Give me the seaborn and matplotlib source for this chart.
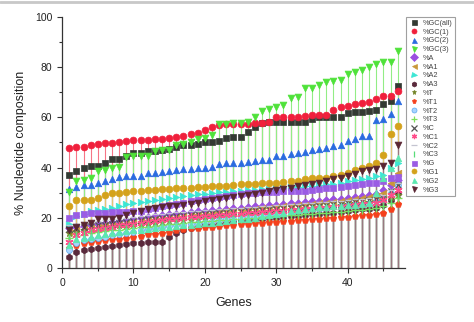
import matplotlib
matplotlib.use("Agg")
import matplotlib.pyplot as plt
from matplotlib.lines import Line2D
from matplotlib.colors import to_rgb
import seaborn as sns
import numpy as np
import pandas as pd

genes = list(range(1, 48))

gc_all = [37.1, 38.6, 40.0, 40.6, 40.8, 42.0, 43.3, 43.4, 44.6, 45.7, 45.9, 46.7, 46.8, 47.0, 47.3, 48.3,
          48.8, 49.0, 49.4, 50.0, 50.3, 50.7, 51.9, 52.3, 52.3, 54.2, 56.0, 57.6, 58.0, 58.0, 58.0, 58.0,
          58.0, 58.0, 59.5, 60.0, 60.0, 60.0, 60.0, 61.9, 62.3, 62.3, 62.7, 63.1, 65.2, 66.4, 72.5]
gc1 = [47.9, 48.1, 48.3, 49.0, 49.3, 49.7, 49.8, 50.3, 50.7, 51.0, 51.0, 51.1, 51.3, 51.4, 51.9, 52.3,
       52.4, 53.4, 53.6, 55.0, 56.0, 56.8, 57.2, 57.2, 57.3, 57.4, 57.6, 57.9, 58.2, 60.0, 60.0, 60.3,
       60.3, 60.6, 60.8, 61.1, 61.1, 62.9, 64.3, 64.5, 65.3, 65.9, 66.3, 67.5, 68.4, 68.4, 70.4]
gc2 = [31.3, 32.1, 33.1, 33.2, 33.7, 34.6, 35.5, 36.4, 36.5, 36.7, 36.8, 37.7, 38.0, 38.4, 38.5, 39.0,
       39.3, 39.4, 39.7, 39.8, 40.3, 41.4, 41.7, 41.8, 41.9, 42.3, 42.7, 43.0, 43.1, 44.6, 44.7, 45.4,
       45.9, 46.3, 47.0, 47.4, 48.0, 48.7, 49.0, 50.7, 51.5, 52.6, 52.7, 59.0, 59.5, 61.4, 66.5]
gc3 = [30.4, 34.6, 35.1, 36.0, 38.8, 39.0, 39.7, 40.3, 44.3, 44.6, 44.6, 44.7, 46.7, 47.0, 47.1, 49.0,
       49.3, 50.3, 51.3, 51.7, 53.0, 57.4, 57.5, 57.9, 57.9, 58.0, 60.0, 62.7, 63.5, 64.0, 65.0, 67.9,
       68.3, 71.6, 71.7, 72.8, 74.0, 74.5, 74.8, 77.2, 78.0, 78.8, 80.1, 81.4, 82.1, 82.2, 86.6]
a_all = [16.0, 16.5, 16.8, 17.0, 17.5, 18.0, 18.3, 18.7, 19.0, 19.5, 20.0, 20.3, 20.8, 21.0, 21.3, 21.6,
         22.0, 22.3, 22.5, 22.8, 23.0, 23.2, 23.5, 23.8, 24.0, 24.2, 24.5, 24.7, 25.0, 25.2, 25.5, 25.7,
         26.0, 26.2, 26.5, 26.8, 27.0, 27.3, 27.6, 28.0, 28.3, 28.6, 29.0, 29.5, 31.0, 33.0, 35.0]
a1 = [14.5, 15.0, 15.5, 16.0, 16.5, 17.0, 17.3, 17.6, 18.0, 18.3, 18.6, 19.0, 19.3, 19.6, 20.0, 20.3,
      20.6, 21.0, 21.3, 21.6, 22.0, 22.2, 22.5, 22.7, 23.0, 23.2, 23.5, 23.7, 24.0, 24.2, 24.5, 24.7,
      25.0, 25.2, 25.5, 25.8, 26.0, 26.3, 26.6, 27.0, 27.4, 27.8, 28.2, 28.8, 30.0, 34.0, 38.0]
a2 = [17.5, 20.5, 21.5, 22.5, 23.0, 23.5, 24.0, 24.5, 25.5, 26.0, 26.3, 26.5, 27.0, 27.5, 28.0, 28.3,
      28.5, 29.0, 29.3, 29.6, 30.0, 30.2, 30.4, 30.6, 30.8, 31.0, 31.2, 31.4, 31.6, 31.8, 32.0, 32.2,
      32.4, 32.6, 32.8, 33.0, 33.3, 33.6, 34.0, 34.5, 35.0, 35.5, 36.0, 36.5, 37.0, 40.0, 42.0]
a3 = [4.5, 6.5, 7.0, 7.5, 7.8, 8.3, 8.8, 9.3, 9.6, 10.0, 10.0, 10.2, 10.5, 10.5, 12.2, 13.8,
      15.0, 16.0, 16.5, 17.0, 17.3, 17.6, 18.0, 18.3, 18.6, 19.0, 19.2, 19.5, 19.8, 20.0, 20.3, 20.5,
      20.8, 21.0, 21.3, 21.5, 21.8, 22.0, 22.3, 22.6, 23.0, 23.3, 23.6, 24.0, 25.0, 27.0, 30.0]
t_all = [14.0, 14.5, 15.0, 15.5, 16.0, 16.3, 16.6, 17.0, 17.2, 17.5, 17.7, 18.0, 18.2, 18.4, 18.6, 18.8,
         19.0, 19.2, 19.4, 19.6, 19.8, 19.9, 20.0, 20.3, 20.6, 21.0, 21.3, 21.6, 22.0, 22.3, 22.6, 22.9,
         23.2, 23.5, 23.8, 24.0, 24.3, 24.6, 25.0, 25.3, 25.7, 26.0, 26.4, 26.8, 28.0, 28.3, 29.0]
t1 = [8.0, 9.0, 10.0, 10.5, 10.7, 11.0, 11.4, 11.7, 12.0, 12.2, 12.8, 13.5, 13.7, 14.0, 14.5, 15.0,
      15.5, 15.8, 16.0, 16.2, 16.5, 16.7, 17.0, 17.2, 17.4, 17.6, 17.8, 18.0, 18.2, 18.4, 18.6, 18.8,
      19.0, 19.2, 19.4, 19.6, 19.8, 20.0, 20.2, 20.4, 20.6, 20.9, 21.2, 21.5, 22.0, 23.5, 25.5]
t2 = [7.0, 10.0, 11.0, 11.5, 12.0, 12.5, 13.0, 13.5, 14.0, 14.5, 15.0, 15.5, 16.0, 16.3, 16.6, 17.0,
      17.3, 17.6, 18.0, 18.3, 18.6, 19.0, 19.3, 19.6, 20.0, 20.3, 20.6, 21.0, 21.3, 21.6, 22.0, 22.3,
      22.6, 23.0, 23.3, 23.6, 24.0, 24.3, 24.6, 25.0, 25.3, 25.6, 26.0, 26.5, 27.5, 30.0, 33.0]
t3 = [12.0, 12.8, 13.3, 13.8, 14.2, 14.6, 15.0, 15.3, 15.6, 15.9, 16.2, 16.5, 16.8, 17.1, 17.4, 17.7,
      18.0, 18.2, 18.4, 18.6, 18.8, 19.0, 19.2, 19.4, 19.6, 19.8, 20.0, 20.2, 20.4, 20.6, 20.8, 21.0,
      21.2, 21.4, 21.6, 21.8, 22.0, 22.2, 22.4, 22.6, 22.9, 23.2, 23.5, 23.8, 24.5, 26.0, 28.0]
c_all = [15.5, 16.0, 16.3, 16.6, 17.0, 17.3, 17.6, 18.0, 18.3, 18.6, 19.0, 19.3, 19.6, 20.0, 20.3, 20.6,
         21.0, 21.2, 21.4, 21.6, 21.8, 22.0, 22.2, 22.4, 22.6, 22.8, 23.0, 23.2, 23.4, 23.6, 23.8, 24.0,
         24.2, 24.4, 24.6, 24.8, 25.0, 25.3, 25.6, 26.0, 26.3, 26.6, 27.0, 27.4, 28.0, 30.5, 33.0]
c1 = [10.5, 13.0, 14.0, 15.0, 15.5, 16.0, 16.5, 17.0, 17.3, 17.6, 18.0, 18.3, 18.6, 19.0, 19.3, 19.6,
      20.0, 20.2, 20.4, 20.6, 20.8, 21.0, 21.2, 21.4, 21.6, 21.8, 22.0, 22.2, 22.4, 22.6, 22.8, 23.0,
      23.2, 23.4, 23.6, 23.8, 24.0, 24.2, 24.4, 24.7, 25.0, 25.3, 25.6, 26.0, 27.0, 29.0, 31.0]
c2 = [17.0, 17.5, 18.0, 18.3, 18.6, 19.0, 19.3, 19.6, 20.0, 20.3, 20.6, 21.0, 21.3, 21.6, 22.0, 22.2,
      22.4, 22.6, 22.8, 23.0, 23.2, 23.4, 23.6, 23.8, 24.0, 24.2, 24.4, 24.6, 24.8, 25.0, 25.2, 25.4,
      25.6, 25.8, 26.0, 26.2, 26.4, 26.6, 26.8, 27.0, 27.3, 27.6, 28.0, 28.5, 29.0, 31.0, 34.0]
c3 = [12.5, 13.5, 14.0, 14.4, 14.8, 15.2, 15.5, 15.8, 16.1, 16.4, 16.7, 17.0, 17.3, 17.6, 17.9, 18.2,
      18.4, 18.6, 18.8, 19.0, 19.2, 19.4, 19.6, 19.8, 20.0, 20.2, 20.4, 20.6, 20.8, 21.0, 21.2, 21.4,
      21.6, 21.8, 22.0, 22.2, 22.4, 22.6, 22.8, 23.0, 23.3, 23.6, 24.0, 24.4, 25.0, 26.5, 28.5]
g_all = [19.8, 21.0, 21.5, 21.8, 22.0, 22.0, 22.2, 22.3, 22.4, 22.5, 22.8, 23.5, 24.0, 24.5, 25.0, 25.5,
         25.8, 26.5, 27.1, 27.4, 27.8, 28.2, 28.6, 29.0, 29.4, 29.8, 30.0, 30.2, 30.4, 30.4, 30.5, 30.5,
         30.6, 30.8, 31.0, 31.3, 31.7, 31.8, 32.3, 32.8, 33.0, 33.4, 33.7, 33.8, 34.5, 35.8, 36.2]
g1 = [24.7, 27.1, 27.1, 27.2, 28.0, 29.1, 29.7, 30.0, 30.4, 30.5, 30.5, 31.1, 31.1, 31.3, 31.4, 31.7,
      31.8, 32.0, 32.1, 32.4, 32.7, 32.7, 32.8, 32.9, 33.3, 33.5, 33.5, 33.7, 34.0, 34.0, 34.1, 34.8,
      34.8, 35.3, 35.7, 35.7, 35.9, 36.6, 37.1, 38.0, 39.1, 39.7, 40.6, 41.9, 45.0, 53.4, 56.7]
g2 = [9.0, 11.5, 12.0, 12.5, 13.0, 13.5, 14.0, 14.3, 14.6, 15.0, 15.3, 15.6, 15.9, 16.2, 16.5, 16.8,
      17.0, 17.3, 17.6, 17.8, 18.0, 18.3, 18.6, 19.0, 19.3, 19.6, 20.0, 20.5, 21.0, 21.5, 22.0, 22.5,
      23.0, 23.5, 24.0, 24.2, 24.4, 24.6, 24.8, 25.0, 25.2, 25.5, 26.0, 30.0, 36.0, 40.0, 44.0]
g3 = [15.0, 16.5, 17.0, 18.0, 19.5, 19.5, 19.6, 20.0, 21.0, 22.0, 22.5, 23.5, 24.0, 24.3, 24.5, 24.8,
      25.0, 25.5, 26.0, 26.5, 27.0, 27.5, 27.9, 28.3, 28.7, 29.0, 29.5, 30.0, 30.5, 31.0, 31.5, 32.0,
      32.5, 33.0, 33.5, 33.8, 34.5, 35.5, 36.0, 36.8, 37.5, 38.5, 39.0, 39.5, 40.6, 42.0, 49.0]

labels = ["%GC(all)", "%GC(1)", "%GC(2)", "%GC(3)", "%A", "%A1", "%A2", "%A3", "%T", "%T1",
          "%T2", "%T3", "%C", "%C1", "%C2", "%C3", "%G", "%G1", "%G2", "%G3"]
series = [gc_all, gc1, gc2, gc3, a_all, a1, a2, a3, t_all, t1, t2, t3, c_all, c1, c2, c3, g_all, g1, g2, g3]

colors = ["#333a33", "#f0203c", "#2b6be0", "#4fe23a", "#9b4fe0", "#c9983a", "#3ce6d4", "#5a2a3c",
          "#74862a", "#f5401c", "#5aa8ee", "#7ee05a", "#555555", "#ff4d8a", "#c4c4d0", "#58dc78",
          "#9a5ce4", "#d4a21c", "#5ce8b0", "#5a2633"]
markers = ["s", "o", "^", "v", "D", "<", ">", "h", "*", "p",
           "o", "+", "x", (6, 2, 0), "_", "|", "s", "o", "^", "v"]
sizes = [18, 24, 22, 24, 15, 22, 22, 22, 30, 24, 18, 26, 20, 26, 24, 24, 18, 24, 22, 24]

for s in series:
    assert len(s) == 47, len(s)


def tint(c, f):
    r, g, b = to_rgb(c)
    return (r + (1 - r) * f, g + (1 - g) * f, b + (1 - b) * f)


sns.set_style("ticks")
plt.rcParams["font.family"] = ["Liberation Sans", "DejaVu Sans"]

fig = plt.figure(figsize=(4.74, 3.22), dpi=100)
ax = fig.add_axes([0.131, 0.168, 0.723, 0.779])

# drop lines (opaque, lightened; later series cover earlier ones)
for vals, col in zip(series, colors):
    ax.vlines(genes, 0, vals, colors=[tint(col, 0.38)], linewidth=0.8, zorder=1)

handles = []
for vals, lab, col, mk, sz in zip(series, labels, colors, markers, sizes):
    df = pd.DataFrame({"Genes": genes, "val": vals})
    filled = mk not in ["+", "x", "_", "|", (6, 2, 0)]
    if filled:
        face = "#a8d4ff" if lab == "%T2" else col
        sns.scatterplot(data=df, x="Genes", y="val", ax=ax, marker=mk, s=sz,
                        color=face, edgecolor=col, linewidth=0.5, zorder=3, legend=False)
        handles.append(Line2D([], [], linestyle="none", marker=mk, markersize=3.6,
                              markerfacecolor=face, markeredgecolor=col, markeredgewidth=0.5))
    else:
        sns.scatterplot(data=df, x="Genes", y="val", ax=ax, marker=mk, s=sz,
                        color=col, linewidth=1.0, zorder=3, legend=False)
        handles.append(Line2D([], [], linestyle="none", marker=mk, markersize=3.8,
                              color=col, markeredgewidth=0.9))

ax.set_xlim(0, 48)
ax.set_ylim(0, 100)
ax.set_xticks([0, 10, 20, 30, 40])
ax.set_xticks([5, 15, 25, 35, 45], minor=True)
ax.set_yticks([0, 20, 40, 60, 80, 100])
ax.set_yticks([10, 30, 50, 70, 90], minor=True)
ax.tick_params(axis="both", which="major", direction="out", length=3.5, width=0.8,
               labelsize=7.5, colors="#333333", labelcolor="#222222")
ax.tick_params(axis="both", which="minor", direction="out", length=2, width=0.8, colors="#333333")
for side in ["top", "right"]:
    ax.spines[side].set_visible(False)
for side in ["left", "bottom"]:
    ax.spines[side].set_color("#333333")
    ax.spines[side].set_linewidth(0.9)

ax.set_xlabel("Genes", fontsize=9, color="#222222", labelpad=7)
ax.set_ylabel("% Nucleotide composition", fontsize=9, color="#222222", labelpad=6)

leg = fig.legend(handles, labels, loc="upper left", bbox_to_anchor=(0.857, 0.948),
                 fontsize=5.3, frameon=True, fancybox=False, borderpad=0.4,
                 labelspacing=0.22, handletextpad=0.5, handlelength=1.3, borderaxespad=0)
leg.get_frame().set_edgecolor("#888888")
leg.get_frame().set_linewidth(0.8)
for t in leg.get_texts():
    t.set_color("#444444")

fig.add_artist(Line2D([0, 1], [0.995, 0.995], transform=fig.transFigure, color="#c8c8c8", linewidth=2))

fig.savefig("out.png", dpi=100)
